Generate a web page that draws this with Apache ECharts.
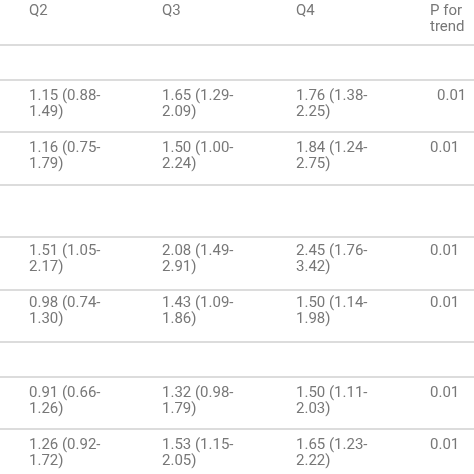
<!DOCTYPE html>
<html><head><meta charset="utf-8">
<script src="https://cdn.jsdelivr.net/npm/echarts@6/dist/echarts.min.js"></script>
<style>html,body{margin:0;padding:0;background:#fff}#c{width:474px;height:474px}</style>
</head><body><div id="c"></div>
<script>
const headers = ['Q2', 'Q3', 'Q4', 'P for\ntrend'];
const q2 = ['1.15 (0.88-\n1.49)', '1.16 (0.75-\n1.79)', '1.51 (1.05-\n2.17)', '0.98 (0.74-\n1.30)', '0.91 (0.66-\n1.26)', '1.26 (0.92-\n1.72)'];
const q3 = ['1.65 (1.29-\n2.09)', '1.50 (1.00-\n2.24)', '2.08 (1.49-\n2.91)', '1.43 (1.09-\n1.86)', '1.32 (0.98-\n1.79)', '1.53 (1.15-\n2.05)'];
const q4 = ['1.76 (1.38-\n2.25)', '1.84 (1.24-\n2.75)', '2.45 (1.76-\n3.42)', '1.50 (1.14-\n1.98)', '1.50 (1.11-\n2.03)', '1.65 (1.23-\n2.22)'];
const pTrend = ['0.01', '0.01', '0.01', '0.01', '0.01', '0.01'];

const colX = [29, 162, 296, 430];
const rowY = [88, 140, 243, 295, 385, 437];
const pX = [437, 430, 430, 430, 430, 430];
const rules = [45, 80, 132, 185, 237, 290, 342, 377, 429];

const data = [];
headers.forEach((h, i) => data.push({value: [colX[i], 3], t: h}));
[q2, q3, q4].forEach((col, c) => col.forEach((s, r) => data.push({value: [colX[c], rowY[r]], t: s})));
pTrend.forEach((s, r) => data.push({value: [pX[r], rowY[r]], t: s}));
rowY.forEach(y => data.push({value: [-3, y], t: 'f', small: true}));

const chart = echarts.init(document.getElementById('c'));
chart.setOption({
  animation: false,
  grid: {left: 0, right: 0, top: 0, bottom: 0},
  xAxis: {type: 'value', min: 0, max: 474, show: false},
  yAxis: {type: 'value', min: 0, max: 474, inverse: true, show: false},
  series: [{
    type: 'scatter', symbolSize: 0, silent: true,
    data: data.map(d => ({value: d.value, label: d.small ? {fontSize: 9} : {}, name: d.t})),
    label: {show: true, position: 'inside', align: 'left', verticalAlign: 'top',
      formatter: p => p.name, color: '#555', fontFamily: 'Roboto', fontSize: 15, lineHeight: 16},
    markLine: {symbol: 'none', silent: true, label: {show: false},
      lineStyle: {color: '#dcdcdc', width: 2, type: 'solid'},
      data: rules.map(y => ({yAxis: y}))}
  }]
});
</script></body></html>
